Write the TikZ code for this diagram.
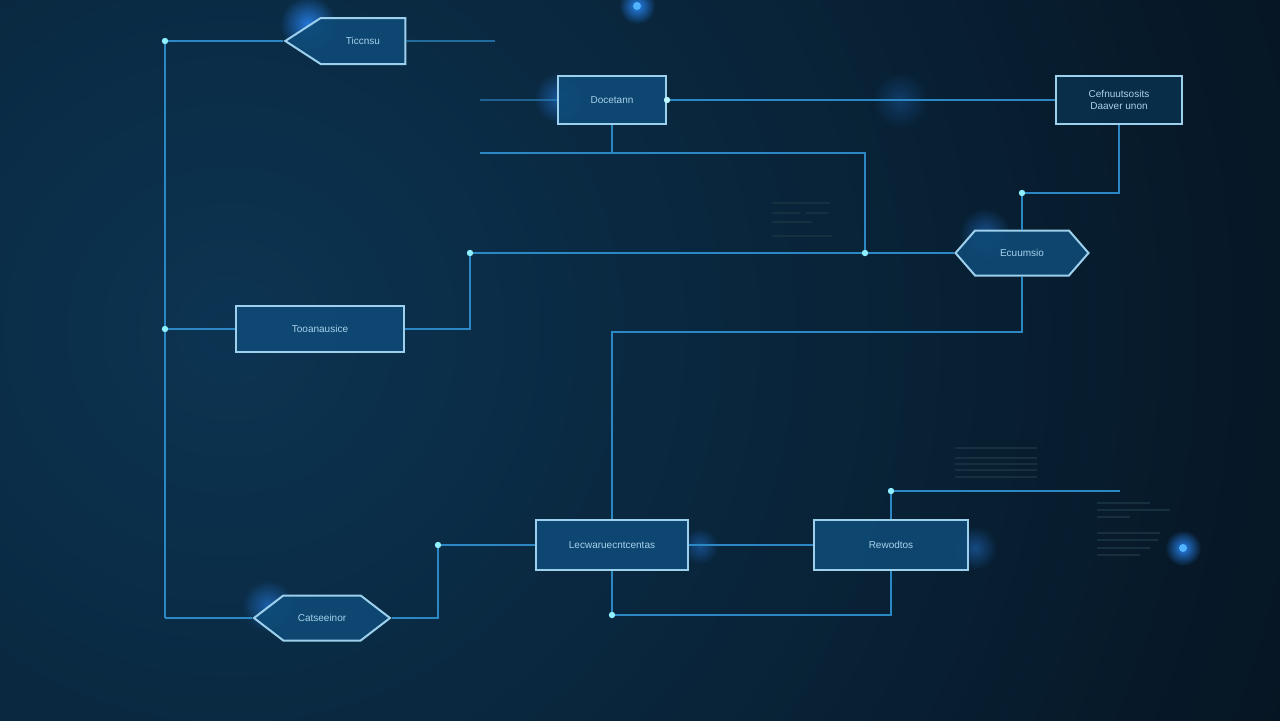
\documentclass[tikz,border=0pt]{standalone}
\usepackage{fontspec}
\setmainfont{Liberation Sans}
\usetikzlibrary{shapes.symbols,fadings}
\definecolor{bgdark}{HTML}{03070D}
\definecolor{bglight}{HTML}{0C3452}
\definecolor{nodefill}{HTML}{0E4A76}
\definecolor{nodeborder}{HTML}{9CD0EC}
\definecolor{nodetext}{HTML}{A8D2EC}
\definecolor{wirecol}{HTML}{2B88C4}
\definecolor{dotcol}{HTML}{8FF0FF}
\definecolor{glowcol}{HTML}{2A8CFF}
\definecolor{faint}{HTML}{16303F}
\tikzfading[name=glowfade, inner color=transparent!0, outer color=transparent!100]
\begin{document}
\begin{tikzpicture}[x=0.5pt,y=-0.5pt,
  box/.style={draw=nodeborder, line width=1pt, fill=nodefill, fill opacity=0.9, text opacity=1,
    text=nodetext, font=\fontsize{5}{6}\selectfont, inner sep=0pt, align=center},
  sig/.style={box, shape=signal},
  wire/.style={draw=wirecol, line width=0.7pt},
  dot/.style={circle, fill=dotcol, inner sep=0pt, minimum size=3.2pt},
  glow/.style={fill=glowcol, path fading=glowfade},
  faintline/.style={draw=faint, line width=0.6pt}]
% background
\useasboundingbox (0,0) rectangle (1280,720);
\fill[bgdark] (0,0) rectangle (1280,720);
\begin{scope}
\clip (0,0) rectangle (1280,720);
\shade[inner color=bglight, outer color=bgdark] (230,330) circle (820pt);
\end{scope}
% faint decorative lines
\draw[faintline] (772,203) -- (830,203);
\draw[faintline] (772,213) -- (800,213) (806,213) -- (828,213);
\draw[faintline] (772,222) -- (812,222);
\draw[faintline] (772,236) -- (832,236);
\draw[faintline] (955,448) -- (1037,448);
\draw[faintline] (955,458) -- (1037,458);
\draw[faintline] (955,464) -- (1037,464);
\draw[faintline] (955,470) -- (1037,470);
\draw[faintline] (955,477) -- (1037,477);
\draw[faintline] (1097,503) -- (1150,503);
\draw[faintline] (1097,510) -- (1170,510);
\draw[faintline] (1097,517) -- (1130,517);
\draw[faintline] (1097,533) -- (1160,533);
\draw[faintline] (1097,540) -- (1158,540);
\draw[faintline] (1097,548) -- (1150,548);
\draw[faintline] (1097,555) -- (1140,555);
% glows
\fill[glow, fill opacity=0.8] (308,24) circle (14pt);
\fill[glow, fill opacity=0.5] (560,98) circle (13pt);
\fill[glow, fill opacity=0.45] (985,234) circle (13pt);
\fill[glow, fill opacity=0.55] (268,606) circle (13pt);
\fill[glow, fill opacity=0.4] (975,548) circle (11pt);
\fill[glow, fill opacity=0.4] (700,546) circle (9pt);
\fill[glow, fill opacity=0.9] (637,6) circle (9pt);
\fill[glow, fill opacity=0.9] (1183,548) circle (9pt);
\fill[glow, fill opacity=0.25] (900,100) circle (14pt);
% nodes
\node[sig, signal to=west, signal pointer angle=66, minimum width=60pt, minimum height=23pt] (tic) at (363,41) {Ticcnsu};
\node[box, minimum width=54pt, minimum height=24pt] (doc) at (612,100) {Docetann};
\node[box, minimum width=63pt, minimum height=24pt, fill=nodefill!65!black] (cef) at (1119,100) {Cefnuutsosits\\Daaver unon};
\node[sig, signal to=west and east, signal pointer angle=98, minimum width=66.5pt, minimum height=22.5pt] (ecu) at (1022,253) {Ecuumsio};
\node[box, minimum width=84pt, minimum height=23pt] (too) at (320,329) {Tooanausice};
\node[box, minimum width=76pt, minimum height=25pt] (lec) at (612,545) {Lecwaruecntcentas};
\node[box, minimum width=77pt, minimum height=25pt] (rew) at (891,545) {Rewodtos};
\node[sig, signal to=west and east, signal pointer angle=75, minimum width=68pt, minimum height=22.5pt] (cat) at (322,618) {Catseeinor};
% junction coordinates
\coordinate (L1) at (165,41);
\coordinate (L2) at (165,329);
\coordinate (L3) at (165,618);
\coordinate (tE) at (495,41);
\coordinate (dW) at (480,100);
\coordinate (dS) at (612,153);
\coordinate (hW) at (480,153);
\coordinate (hE) at (865,153);
\coordinate (J1) at (865,253);
\coordinate (J2) at (470,253);
\coordinate (J2b) at (470,329);
\coordinate (cS) at (1119,193);
\coordinate (J3) at (1022,193);
\coordinate (eS) at (1022,332);
\coordinate (eW) at (612,332);
\coordinate (lS) at (612,615);
\coordinate (rS) at (891,615);
\coordinate (J4) at (891,491);
\coordinate (rE) at (1120,491);
\coordinate (cE) at (438,618);
\coordinate (J5) at (438,545);
% connectors
\draw[wire] (L1) -- (L3);
\draw[wire] (L1) -- (tic.west);
\draw[wire] (L2) -- (too.west);
\draw[wire] (L3) -- (cat.west);
\draw[wire, draw opacity=0.7] (tic.east) -- (tE);
\draw[wire, draw opacity=0.6] (dW) -- (doc.west);
\draw[wire] (doc.east) -- (cef.west);
\draw[wire] (doc.south) -- (dS);
\draw[wire] (hW) -- (hE) -- (J1);
\draw[wire] (J2) -- (ecu.west);
\draw[wire] (J2) -- (J2b) -- (too.east);
\draw[wire] (cef.south) -- (cS) -- (J3) -- (ecu.north);
\draw[wire] (ecu.south) -- (eS) -- (eW) -- (lec.north);
\draw[wire] (lec.east) -- (rew.west);
\draw[wire] (lec.south) -- (lS) -- (rS) -- (rew.south);
\draw[wire] (rew.north) -- (J4) -- (rE);
\draw[wire] (cat.east) -- (cE) -- (J5) -- (lec.west);
% dots
\foreach \p in {L1,L2,J1,J2,J3,lS,J4,J5}
  \node[dot] at (\p) {};
\node[dot, fill=dotcol!60!white] at (doc.east) {};
\node[circle, fill=dotcol!40!glowcol, inner sep=0pt, minimum size=4pt] at (637,6) {};
\node[circle, fill=dotcol!40!glowcol, inner sep=0pt, minimum size=4pt] at (1183,548) {};
\end{tikzpicture}
\end{document}
